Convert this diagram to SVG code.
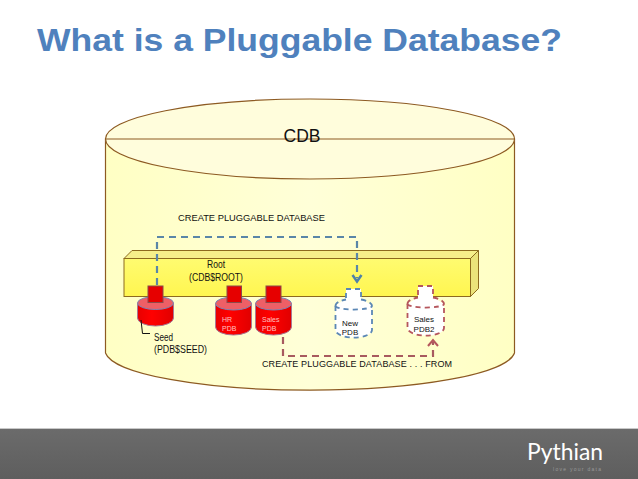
<svg xmlns="http://www.w3.org/2000/svg" width="638" height="479" viewBox="0 0 638 479">
<defs>
<linearGradient id="bar" x1="0" y1="0" x2="0" y2="1"><stop offset="0" stop-color="#6b6b6b"/><stop offset="1" stop-color="#5e5e5e"/></linearGradient>
<linearGradient id="body" x1="0" y1="0" x2="1" y2="0"><stop offset="0" stop-color="#ffffc4"/><stop offset=".5" stop-color="#ffffd8"/><stop offset="1" stop-color="#ffffc4"/></linearGradient>
<linearGradient id="front" x1="0" y1="0" x2="0" y2="1"><stop offset="0" stop-color="#fffb70"/><stop offset="1" stop-color="#fff650"/></linearGradient>
<linearGradient id="red" x1="0" y1="0" x2="1" y2="0"><stop offset="0" stop-color="#e80000"/><stop offset=".4" stop-color="#ff0000"/><stop offset="1" stop-color="#e00000"/></linearGradient>
</defs>
<style>
text{font-family:"Liberation Sans",Arial,sans-serif}
.cdb{stroke:#8d5a22;stroke-width:1.2}
.dk{fill:#111}
.db{fill:url(#red);stroke:#a77a95;stroke-width:1}
.top{fill:#ee5f66;stroke:#7a86b5;stroke-width:1}
.sq{fill:#e60000;stroke:#8a4a4a;stroke-width:1}
.w{fill:#ffc0c0;font-size:7px}
.nb,.nr{stroke-width:1.800;stroke-dasharray:5 4}
.nb{fill:#fff;stroke:#5b87b5}
.nr{fill:#fff;stroke:#b5565c}
.l{fill:none}
.conn{fill:none;stroke-width:2.200;stroke-dasharray:7 5}
</style>
<rect width="638" height="479" fill="#fff"/>
<text id="title" x="37" y="51" font-size="32" font-weight="700" fill="#4f81bd" textLength="525" lengthAdjust="spacingAndGlyphs">What is a Pluggable Database?</text>

<g id="cdb">
<path class="cdb" d="M105.500 139V353A205 40 0 0 0 514.500 353V139Z" fill="url(#body)"/>
<ellipse class="cdb" cx="310" cy="139" rx="204.500" ry="40" fill="#fffddc"/>
<path d="M105.500 139H514.500" stroke="#8d5a22" stroke-width="1.200" fill="none"/>
<text x="302" y="142" font-size="19" text-anchor="middle" fill="#111" textLength="37" lengthAdjust="spacingAndGlyphs">CDB</text>
</g>

<g id="root">
<path d="M124 258.500L132 250.500H478.500L470.500 258.500Z" fill="#f6ef8a" stroke="#8d6a1e"/>
<path d="M470.500 258.500L478.500 250.500V288.500L470.500 296.500Z" fill="#ebe37a" stroke="#8d6a1e"/>
<rect x="124" y="258.500" width="346.500" height="38" fill="url(#front)" stroke="#8d6a1e"/>
<text x="216" y="268" font-size="10" text-anchor="middle" class="dk" textLength="18" lengthAdjust="spacingAndGlyphs">Root</text>
<text x="216" y="281" font-size="10" text-anchor="middle" class="dk" textLength="54" lengthAdjust="spacingAndGlyphs">(CDB$ROOT)</text>
</g>

<g id="seed">
<path class="db" d="M137.500 303V318A18 8 0 0 0 173.500 318V303Z"/>
<ellipse class="top" cx="155.500" cy="303" rx="18" ry="6.500"/>
<rect class="sq" x="148" y="286" width="15" height="16.500"/>
<path d="M141 320L142.500 333.500H150" fill="none" stroke="#111" stroke-width="1"/>
<text x="154" y="341" font-size="10" class="dk" textLength="19" lengthAdjust="spacingAndGlyphs">Seed</text>
<text x="154" y="353" font-size="10" class="dk" textLength="53" lengthAdjust="spacingAndGlyphs">(PDB$SEED)</text>
</g>

<g id="hr">
<path class="db" d="M215.500 303.500V327A18 8 0 0 0 251.500 327V303.500Z"/>
<ellipse class="top" cx="233.500" cy="303.500" rx="18" ry="6.500"/>
<rect class="sq" x="227" y="286" width="14.500" height="16.500"/>
<text x="222" y="322" class="w">HR</text>
<text x="222" y="331" class="w">PDB</text>
</g>

<g id="sales">
<path class="db" d="M255.500 303.500V327A18 8 0 0 0 291.500 327V303.500Z"/>
<ellipse class="top" cx="273.500" cy="303.500" rx="18" ry="6.500"/>
<rect class="sq" x="266" y="286" width="15" height="16.500"/>
<text x="262" y="322" class="w">Sales</text>
<text x="262" y="331" class="w">PDB</text>
</g>

<g id="new">
<path d="M335.500 306V330A18 7.500 0 0 0 372 330V306L361 298V289H346V298Z" fill="#fff"/>
<path class="nb l" d="M335.500 306V330A18 7.500 0 0 0 372 330V306"/>
<path class="nb l" d="M335.500 306A18 7 0 0 1 346 299.500M361 299.500A18 7 0 0 1 372 306"/>
<path class="nb l" d="M335.500 306A18 3.500 0 0 0 372 306"/>
<path class="nb l" d="M346 298V289H361V298"/>
<text x="350" y="326" font-size="8" text-anchor="middle" class="dk">New</text>
<text x="350" y="335" font-size="8" text-anchor="middle" class="dk">PDB</text>
</g>

<g id="sales2">
<path d="M407.500 304V328A18 7.500 0 0 0 444 328V304L433 297V286H418V297Z" fill="#fff"/>
<path class="nr l" d="M407.500 304V328A18 7.500 0 0 0 444 328V304"/>
<path class="nr l" d="M407.500 304A18 7 0 0 1 418 297.500M433 297.500A18 7 0 0 1 444 304"/>
<path class="nr l" d="M407.500 304A18 3.500 0 0 0 444 304"/>
<path class="nr l" d="M418 295V286H433V295"/>
<text x="424" y="322" font-size="8" text-anchor="middle" class="dk">Sales</text>
<text x="424" y="332" font-size="8" text-anchor="middle" class="dk">PDB2</text>
</g>

<g id="connectors">
<path class="conn" stroke="#5a86a8" d="M157 285V237H357V278"/>
<path fill="none" stroke="#4f81a8" stroke-width="2.500" d="M352.500 275L357 281.500L361.500 275"/>
<path class="conn" stroke="#a85a5f" d="M283 337V356H433V342"/>
<path fill="none" stroke="#b5565c" stroke-width="2" d="M428 346L433 340L438 346"/>
</g>

<text x="178" y="221" font-size="9" class="dk" textLength="147" lengthAdjust="spacingAndGlyphs">CREATE PLUGGABLE DATABASE</text>
<text x="262" y="367" font-size="9" class="dk" textLength="190" lengthAdjust="spacing">CREATE PLUGGABLE DATABASE . . . FROM</text>

<g id="footer">
<rect y="429" width="638" height="50" fill="url(#bar)"/>
<rect y="428" width="638" height="1" fill="#c8c8c8"/>
<text x="527" y="460" font-size="24" fill="#fff" style="font-family:Lato,'Liberation Sans',sans-serif" textLength="76" lengthAdjust="spacingAndGlyphs">Pythian</text>
<text x="553" y="471" font-size="5" fill="#999" textLength="48">love your data</text>
</g>
</svg>
